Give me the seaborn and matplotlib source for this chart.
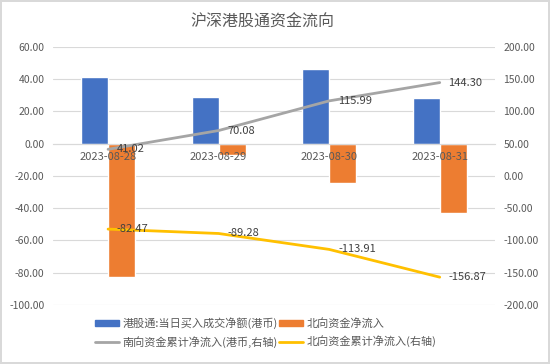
import numpy as np
import pandas as pd
import seaborn as sns
import matplotlib.pyplot as plt
from matplotlib.patches import Patch
from matplotlib.lines import Line2D

# data
dates = ['2023-08-28', '2023-08-29', '2023-08-30', '2023-08-31']
south_daily = [41.02, 29.06, 45.91, 28.31]        # 港股通:当日买入成交净额(港币)
north_daily = [-82.47, -6.81, -24.63, -42.96]     # 北向资金净流入
south_cum = [41.02, 70.08, 115.99, 144.30]        # 南向资金累计净流入(港币,右轴)
north_cum = [-82.47, -89.28, -113.91, -156.87]    # 北向资金累计净流入(右轴)

names = ['港股通:当日买入成交净额(港币)', '北向资金净流入',
         '南向资金累计净流入(港币,右轴)', '北向资金累计净流入(右轴)']
colors = ['#4472C4', '#ED7D31', '#A5A5A5', '#FFC000']
txt = '#595959'
grid = '#D9D9D9'

sns.set_style('white')
plt.rcParams['font.family'] = ['Noto Sans CJK SC', 'DejaVu Sans']
plt.rcParams['axes.unicode_minus'] = False

df = pd.DataFrame({
    'date': dates * 2,
    'value': south_daily + north_daily,
    'series': [names[0]] * 4 + [names[1]] * 4,
})

fig = plt.figure(figsize=(5.5, 3.64), dpi=100)
fig.patch.set_edgecolor(grid)
fig.patch.set_linewidth(1.5)
ax = fig.add_axes([0.096, 0.162, 0.804, 0.71])

sns.barplot(data=df, x='date', y='value', hue='series', palette=colors[:2],
            width=0.49, ax=ax, legend=False, saturation=1)
ax.set_ylim(-100, 60)
ax.set_yticks(np.arange(-100, 61, 20))
ax.set_yticklabels([f'{v:.2f}' for v in np.arange(-100, 61, 20)])
ax.set_xlim(-0.5, 3.5)
ax.set_xlabel('')
ax.set_ylabel('')
ax.yaxis.grid(True, color=grid, lw=0.8)
ax.set_axisbelow(True)
for s in ['left', 'right', 'top']:
    ax.spines[s].set_visible(False)
ax.spines['bottom'].set_position(('data', 0))
ax.spines['bottom'].set_color(grid)
ax.tick_params(axis='y', length=0, labelsize=7.5, labelcolor=txt, pad=6)
ax.tick_params(axis='x', length=0, labelbottom=False)
ax.set_xticks([0.5, 1.5, 2.5], minor=True)
ax.tick_params(axis='x', which='minor', length=3, color=grid)

# category labels sit on the zero line, drawn over the bars
for i, d in enumerate(dates):
    ax.annotate(d, (i, 0), xytext=(0, -9.5), textcoords='offset points',
                ha='center', va='center', fontsize=8, color=txt, zorder=5)

ax2 = ax.twinx()
xs = np.arange(len(dates))
sns.lineplot(x=xs, y=south_cum, color=colors[2], lw=2, ax=ax2)
sns.lineplot(x=xs, y=north_cum, color=colors[3], lw=2, ax=ax2)
ax2.set_ylim(-200, 200)
ax2.set_yticks(np.arange(-200, 201, 50))
ax2.set_yticklabels([f'{v:.2f}' for v in np.arange(-200, 201, 50)])
ax2.set_xlim(-0.5, 3.5)
for s in ['left', 'right', 'top', 'bottom']:
    ax2.spines[s].set_visible(False)
ax2.tick_params(axis='y', length=0, labelsize=7.5, labelcolor=txt, pad=6)

for vals in (south_cum, north_cum):
    for x, v in zip(xs, vals):
        ax2.text(x + 0.08, v, f'{v:.2f}', ha='left', va='center',
                 fontsize=8, color='#404040')

fig.text(0.477, 0.94, '沪深港股通资金流向', ha='center', va='center',
         fontsize=11.5, color=txt)

handles = [Patch(color=colors[0]), Line2D([], [], color=colors[2], lw=2),
           Patch(color=colors[1]), Line2D([], [], color=colors[3], lw=2)]
labels = [names[0], names[2], names[1], names[3]]
fig.legend(handles, labels, ncol=2, loc='center', bbox_to_anchor=(0.483, 0.087),
           frameon=False, fontsize=8, labelcolor=txt, handlelength=2.2,
           handleheight=0.5, handletextpad=0.3, columnspacing=0.1,
           labelspacing=0.6)

fig.savefig('out.png', dpi=100)
